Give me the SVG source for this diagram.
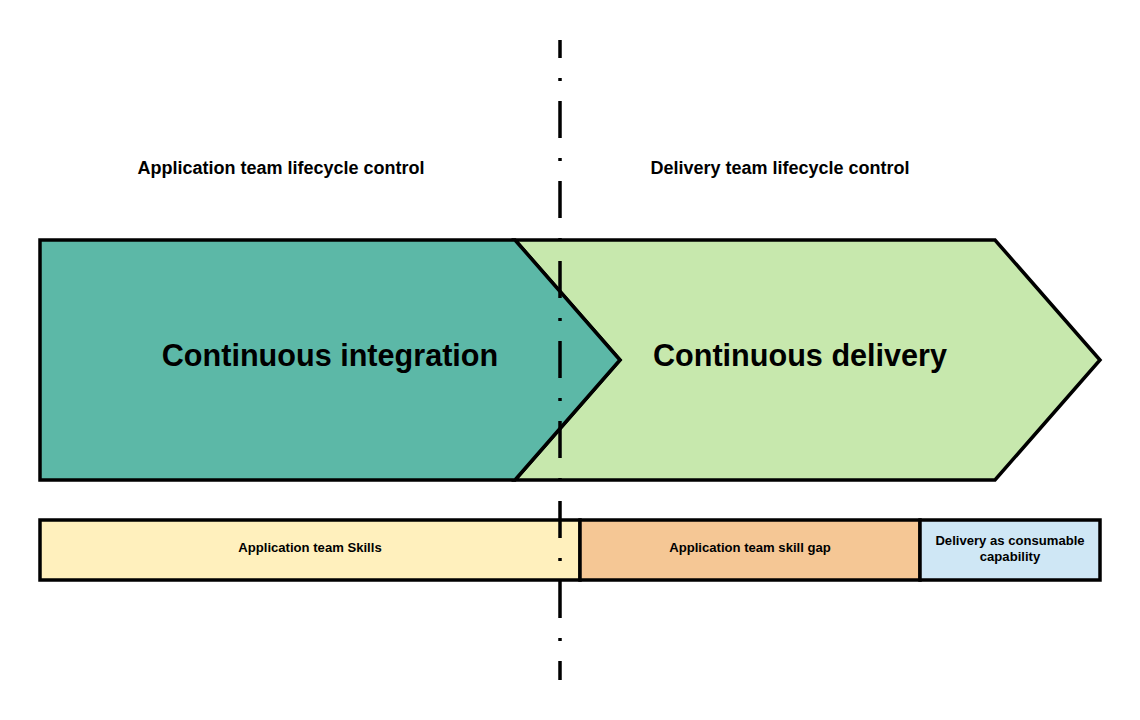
<svg xmlns="http://www.w3.org/2000/svg" width="1140" height="720" viewBox="0 0 1140 720">
<style>
.shape{stroke:#000;stroke-width:3.5;stroke-linejoin:miter}
.t{font-family:"Liberation Sans",Arial,Helvetica,sans-serif;font-weight:bold;fill:#000;text-anchor:middle}
.head{font-size:18px}
.big{font-size:30.6px}
.small{font-size:13.1px}
</style>
<rect width="1140" height="720" fill="#ffffff"/>
<g id="header-left"><text class="t head" x="281" y="174">Application team lifecycle control</text></g>
<g id="header-right"><text class="t head" x="780" y="174">Delivery team lifecycle control</text></g>
<g id="continuous-delivery">
<polygon class="shape" fill="#c7e8ad" points="515,240 995,240 1100,360 995,480 515,480 620,360"/>
<text class="t big" x="800" y="366">Continuous delivery</text>
</g>
<g id="continuous-integration">
<polygon class="shape" fill="#5cb8a7" points="40,240 515,240 620,360 515,480 40,480"/>
<text class="t big" x="330" y="366">Continuous integration</text>
</g>
<g id="skills">
<rect class="shape" fill="#fff0bd" x="40" y="520" width="540" height="60"/>
<text class="t small" x="310" y="552">Application team Skills</text>
</g>
<g id="skill-gap">
<rect class="shape" fill="#f5c795" x="580" y="520" width="340" height="60"/>
<text class="t small" x="750" y="552">Application team skill gap</text>
</g>
<g id="consumable">
<rect class="shape" fill="#cfe7f5" x="920" y="520" width="180" height="60"/>
<text class="t small" x="1010" y="545">Delivery as consumable</text>
<text class="t small" x="1010" y="561">capability</text>
</g>
<g id="connectors">
<line x1="560" y1="40" x2="560" y2="680" stroke="#000" stroke-width="3.5" stroke-dasharray="37 20 3 20" stroke-dashoffset="19"/>
</g>
</svg>
